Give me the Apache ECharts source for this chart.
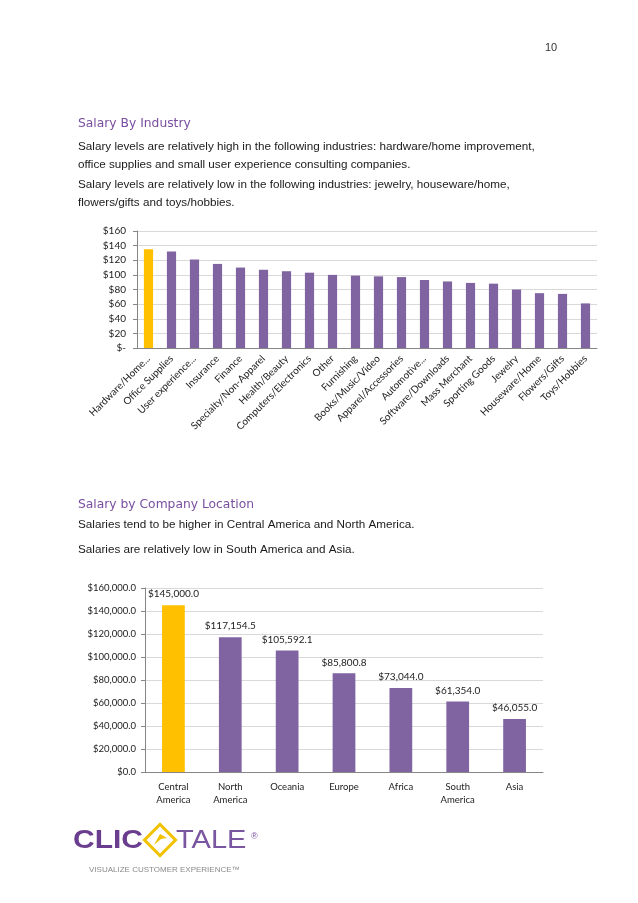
<!DOCTYPE html>
<html><head><meta charset="utf-8">
<script src="https://cdn.jsdelivr.net/npm/echarts@6/dist/echarts.min.js"></script>
<style>html,body{margin:0;padding:0;background:#fff}#c{width:638px;height:903px}</style>
</head><body><div id="c"></div>
<script>
const industries = ["Hardware/Home...","Office Supplies","User experience...","Insurance","Finance","Specialty/Non-Apparel","Health/Beauty","Computers/Electronics","Other","Furnishing","Books/Music/Video","Apparel/Accessories","Automotive...","Software/Downloads","Mass Merchant","Sporting Goods","Jewelry","Houseware/Home","Flowers/Gifts","Toys/Hobbies"];
const industrySalary = [135,132,121,115,110,107,105,103,100,99,98,97,93,91,89,88,80,75,74,61];
const locations = ["Central\nAmerica","North\nAmerica","Oceania","Europe","Africa","South\nAmerica","Asia"];
const locationSalary = [145000.0,117154.5,105592.1,85800.8,73044.0,61354.0,46055.0];
const YELLOW = '#FFC000', PURPLE = '#8064A2';
const HEAD = '#7a4fa0';
const axisFont = 'Lato';

function hl(arr){ return arr.map((v,i)=>({value:v,itemStyle:{color:i===0?YELLOW:PURPLE}})); }
function money1(v){ return '$' + Number(v).toLocaleString('en-US',{minimumFractionDigits:1,maximumFractionDigits:1}); }

const bodyStyle = {font:'11.7px "Liberation Sans"', fill:'#1a1a1a'};
function txt(x,y,t,style,extra){ return Object.assign({type:'text',left:x,top:y,style:Object.assign({text:t},style)},extra||{}); }

const chart = echarts.init(document.getElementById('c'));
chart.setOption({
  animation:false,
  grid:[
    {left:137,right:41,top:231,height:117},
    {left:145,right:95,top:588,height:184}
  ],
  xAxis:[
    {type:'category',gridIndex:0,data:industries,
     axisLine:{lineStyle:{color:'#868686'}},axisTick:{length:4,lineStyle:{color:'#868686'}},
     axisLabel:{rotate:45,interval:0,fontFamily:axisFont,fontSize:10,color:'#222',margin:9}},
    {type:'category',gridIndex:1,data:locations,
     axisLine:{lineStyle:{color:'#868686'}},axisTick:{length:4,lineStyle:{color:'#868686'}},
     axisLabel:{interval:0,fontFamily:axisFont,fontSize:9.5,color:'#222',margin:8,lineHeight:13}}
  ],
  yAxis:[
    {type:'value',gridIndex:0,min:0,max:160,interval:20,
     axisLine:{show:true,lineStyle:{color:'#868686'}},axisTick:{show:true,length:4,lineStyle:{color:'#868686'}},
     splitLine:{lineStyle:{color:'#d9d9d9'}},
     axisLabel:{fontFamily:axisFont,fontSize:10,color:'#222',margin:11,formatter:v=>v===0?'$-':'$'+v}},
    {type:'value',gridIndex:1,min:0,max:160000,interval:20000,
     axisLine:{show:true,lineStyle:{color:'#868686'}},axisTick:{show:true,length:4,lineStyle:{color:'#868686'}},
     splitLine:{lineStyle:{color:'#d9d9d9'}},
     axisLabel:{fontFamily:axisFont,fontSize:9.5,color:'#222',margin:9,formatter:money1}}
  ],
  series:[
    {type:'bar',xAxisIndex:0,yAxisIndex:0,data:hl(industrySalary),barCategoryGap:'60%'},
    {type:'bar',xAxisIndex:1,yAxisIndex:1,data:hl(locationSalary),barCategoryGap:'60%',
     label:{show:true,position:'top',distance:6,fontFamily:axisFont,fontSize:10,color:'#222',formatter:p=>money1(p.value)}}
  ],
  graphic:[
    txt(545,42,'10',{font:'11px "Liberation Sans"',fill:'#333'}),
    txt(78,118,'Salary By Industry',{font:'12.3px "DejaVu Sans"',fill:HEAD}),
    txt(78,141,'Salary levels are relatively high in the following industries: hardware/home improvement,',bodyStyle),
    txt(78,159,'office supplies and small user experience consulting companies.',bodyStyle),
    txt(78,179,'Salary levels are relatively low in the following industries: jewelry, houseware/home,',bodyStyle),
    txt(78,197,'flowers/gifts and toys/hobbies.',bodyStyle),
    txt(78,499,'Salary by Company Location',{font:'12.3px "DejaVu Sans"',fill:HEAD}),
    txt(78,519,'Salaries tend to be higher in Central America and North America.',bodyStyle),
    txt(78,544,'Salaries are relatively low in South America and Asia.',bodyStyle),
    // logo
    txt(0,0,'CLIC',{font:'bold 25px "Liberation Sans"',fill:'#6a3d8e'},{left:null,top:null,x:73,y:829,scaleX:1.2}),
    {type:'rect',shape:{x:-11,y:-11,width:22,height:22},x:160,y:840,rotation:Math.PI/4,
     style:{fill:'#fff',stroke:'#F2C200',lineWidth:3}},
    {type:'polygon',shape:{points:[[154,845],[160,834],[167,838],[161,839]]},style:{fill:'#F2C200'}},
    txt(0,0,'TALE',{font:'25px "Liberation Sans"',fill:'#7a55a0'},{left:null,top:null,x:176,y:829,scaleX:1.16}),
    txt(251,832,'®',{font:'9px "Liberation Sans"',fill:'#7a55a0'}),
    txt(89,866,'VISUALIZE CUSTOMER EXPERIENCE™',{font:'8px "Liberation Sans"',fill:'#8a8a8a'})
  ]
});
</script></body></html>
